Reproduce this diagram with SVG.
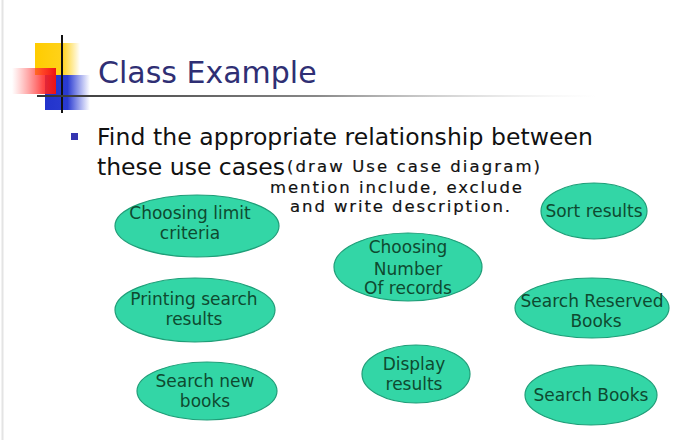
<svg xmlns="http://www.w3.org/2000/svg" width="700" height="440" viewBox="0 0 700 440">
<defs>
<linearGradient id="gy" x1="0" y1="0" x2="1" y2="0"><stop offset="0" stop-color="#ffcc00"/><stop offset="0.6" stop-color="#ffd21a"/><stop offset="1" stop-color="#ffcc00" stop-opacity="0"/></linearGradient>
<linearGradient id="gr" x1="0" y1="0" x2="1" y2="0"><stop offset="0" stop-color="#ff5050" stop-opacity="0"/><stop offset="0.7" stop-color="#ff2a2a" stop-opacity="0.85"/><stop offset="1" stop-color="#ee1111"/></linearGradient>
<linearGradient id="gb" x1="0" y1="0" x2="1" y2="0"><stop offset="0" stop-color="#2233cc"/><stop offset="0.5" stop-color="#2a3bd0"/><stop offset="1" stop-color="#3344dd" stop-opacity="0"/></linearGradient>
<linearGradient id="gl" x1="0" y1="0" x2="1" y2="0"><stop offset="0" stop-color="#333"/><stop offset="0.5" stop-color="#888"/><stop offset="1" stop-color="#ddd" stop-opacity="0"/></linearGradient>
</defs>
<style>
.uc ellipse{fill:#33d6a6;stroke:#1f9e78;stroke-width:1.2}
.uc text{font-family:"DejaVu Sans",Verdana,sans-serif;font-size:17px;fill:#0e4a30;text-anchor:middle}
.hw{font-family:"DejaVu Sans",sans-serif;font-size:16.5px;fill:#111;stroke:#111;stroke-width:0.2}
.body{font-family:"DejaVu Sans",Verdana,sans-serif;font-size:23.5px;fill:#111}
</style>
<rect width="700" height="440" fill="#fff"/>
<line x1="2.5" y1="0" x2="2.5" y2="440" stroke="#e4e4e4" stroke-width="2"/>
<g id="decoration">
<rect x="35" y="43" width="45" height="32" fill="url(#gy)"/>
<rect x="45" y="75" width="45" height="35" fill="url(#gb)"/>
<rect x="12" y="68" width="44" height="26" fill="url(#gr)"/>
<line x1="62" y1="35" x2="62" y2="113" stroke="#111" stroke-width="2"/>
<rect x="37" y="95" width="560" height="2" fill="url(#gl)"/>
</g>
<text x="98" y="83" font-family="DejaVu Sans, Verdana, sans-serif" font-size="30" fill="#2f2f74">Class Example</text>
<rect x="71" y="133" width="7" height="7" fill="#3535b0"/>
<text class="body" x="97" y="145" textLength="496">Find the appropriate relationship between</text>
<text class="body" x="97" y="175">these use cases</text>
<text class="hw" x="287" y="172" textLength="253">(draw Use case diagram)</text>
<text class="hw" x="270" y="193" textLength="252">mention include, exclude</text>
<text class="hw" x="290" y="212" textLength="220">and write description.</text>
<g id="choosing-limit" class="uc"><ellipse cx="197" cy="226" rx="82" ry="31"/><text x="190" y="219">Choosing limit</text><text x="190" y="239">criteria</text></g>
<g id="choosing-number" class="uc"><ellipse cx="408" cy="267" rx="74" ry="34"/><text x="408" y="253">Choosing</text><text x="408" y="275">Number</text><text x="408" y="294">Of records</text></g>
<g id="sort-results" class="uc"><ellipse cx="594" cy="211" rx="53" ry="28"/><text x="594" y="217">Sort results</text></g>
<g id="printing-search" class="uc"><ellipse cx="195" cy="310" rx="80" ry="32"/><text x="194" y="305">Printing search</text><text x="194" y="325">results</text></g>
<g id="search-reserved" class="uc"><ellipse cx="592" cy="308" rx="77" ry="30"/><text x="592" y="307">Search Reserved</text><text x="596" y="327">Books</text></g>
<g id="search-new" class="uc"><ellipse cx="207" cy="391" rx="70" ry="29"/><text x="205" y="387">Search new</text><text x="205" y="407">books</text></g>
<g id="display-results" class="uc"><ellipse cx="416" cy="374" rx="54" ry="29"/><text x="414" y="370">Display</text><text x="414" y="390">results</text></g>
<g id="search-books" class="uc"><ellipse cx="591" cy="395" rx="66" ry="30"/><text x="591" y="401">Search Books</text></g>
<g id="connectors"/>
</svg>
